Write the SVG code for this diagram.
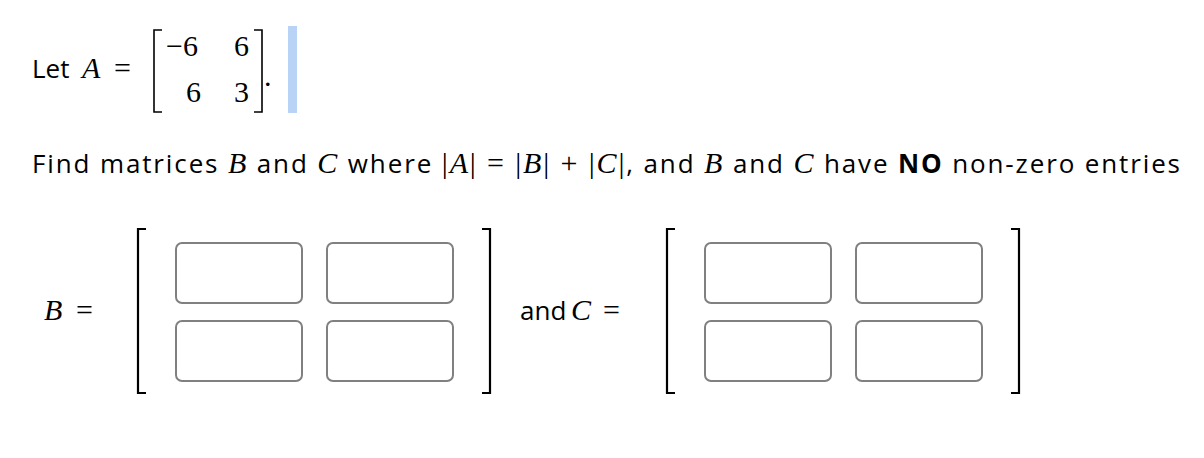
<svg xmlns="http://www.w3.org/2000/svg" width="1204" height="458" viewBox="0 0 1204 458">
<style>
.t{font-family:"Open Sans","DejaVu Sans",sans-serif;font-size:26px;fill:#000}
.m{font-family:"Liberation Serif",serif;font-size:30px;fill:#000}
.i{font-style:italic}
.b{fill:#fff;stroke:#808080;stroke-width:2}
.br{fill:none;stroke:#000;stroke-width:2.2}
.mb{fill:none;stroke:#000;stroke-width:1.6}
</style>
<rect width="1204" height="458" fill="#fff"/>
<g id="lineA">
<text class="t" x="32" y="78">Let</text>
<text class="m i" x="82" y="78">A</text>
<text class="m" x="114" y="78">=</text>
<path class="mb" d="M162,30 H154 V112 H162"/>
<text class="m" x="166" y="56">−6</text>
<text class="m" x="234" y="56">6</text>
<text class="m" x="186" y="102">6</text>
<text class="m" x="234" y="102">3</text>
<path class="mb" d="M254,30 H262 V112 H254"/>
<text class="m" x="264" y="86">.</text>
<rect x="288" y="26" width="9" height="87" fill="#b9d3f7"/>
</g>
<g id="lineFind">
<text class="t" x="32" y="173" textLength="1148" lengthAdjust="spacing">Find matrices <tspan class="m i">B</tspan> and <tspan class="m i">C</tspan> where <tspan class="m">|<tspan class="i">A</tspan>| = |<tspan class="i">B</tspan>| + |<tspan class="i">C</tspan>|</tspan>, and <tspan class="m i">B</tspan> and <tspan class="m i">C</tspan> have <tspan font-weight="bold">NO</tspan> non-zero entries</text>
</g>
<g id="matB">
<text class="m i" x="44" y="320">B</text>
<text class="m" x="76" y="320">=</text>
<path class="br" d="M146,229 H138 V393 H146"/>
<rect class="b" x="176" y="243" width="126" height="60" rx="6"/>
<rect class="b" x="327" y="243" width="126" height="60" rx="6"/>
<rect class="b" x="176" y="321" width="126" height="60" rx="6"/>
<rect class="b" x="327" y="321" width="126" height="60" rx="6"/>
<path class="br" d="M482,229 H490 V393 H482"/>
</g>
<g id="matC">
<text class="t" x="520" y="320">and</text>
<text class="m i" x="571" y="320">C</text>
<text class="m" x="603" y="320">=</text>
<path class="br" d="M675,229 H667 V393 H675"/>
<rect class="b" x="705" y="243" width="126" height="60" rx="6"/>
<rect class="b" x="856" y="243" width="126" height="60" rx="6"/>
<rect class="b" x="705" y="321" width="126" height="60" rx="6"/>
<rect class="b" x="856" y="321" width="126" height="60" rx="6"/>
<path class="br" d="M1011,229 H1019 V393 H1011"/>
</g>
</svg>
